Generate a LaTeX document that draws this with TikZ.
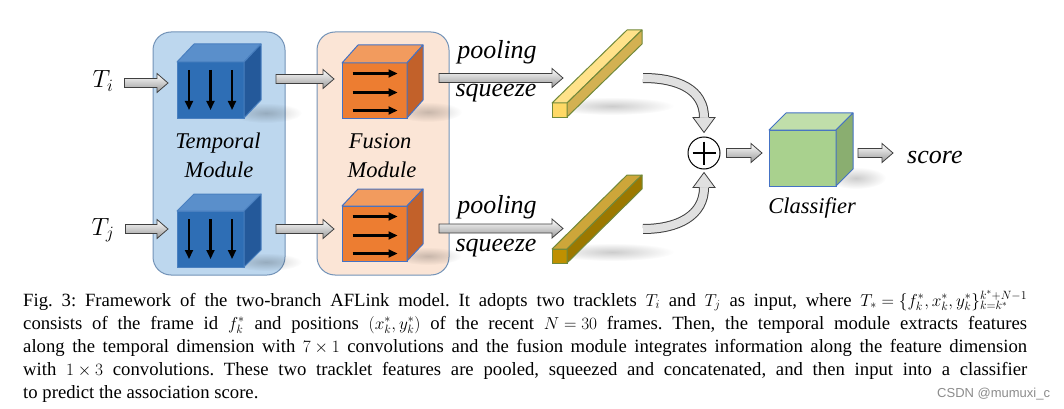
\documentclass[tikz,border=0pt]{standalone}
\usepackage{fontspec}
\setmainfont{Liberation Serif}
\newfontfamily\wmfont{Liberation Sans}
\usetikzlibrary{arrows.meta,calc,fadings}
\definecolor{tempfront}{HTML}{2E6EB5}
\definecolor{temptop}{HTML}{5A8FCB}
\definecolor{tempside}{HTML}{24599A}
\definecolor{tempedge}{HTML}{4A80C0}
\definecolor{fusfront}{HTML}{ED7D31}
\definecolor{fustop}{HTML}{F29B5E}
\definecolor{fusside}{HTML}{C2612A}
\definecolor{cubeedge}{HTML}{4472C4}
\definecolor{clsfront}{HTML}{A9D18E}
\definecolor{clstop}{HTML}{C0DEAA}
\definecolor{clsside}{HTML}{8AAE70}
\definecolor{barafront}{HTML}{FFD966}
\definecolor{baratop}{HTML}{FFE28A}
\definecolor{baraside}{HTML}{D3B152}
\definecolor{barbfront}{HTML}{BF9000}
\definecolor{barbtop}{HTML}{CDA63A}
\definecolor{barbside}{HTML}{9C7800}
\definecolor{baredge}{HTML}{71893A}
\definecolor{modblue}{HTML}{BDD7EE}
\definecolor{modpeach}{HTML}{FBE5D6}
\definecolor{modedge}{HTML}{7393B8}
\tikzfading[name=softshadow, inner color=transparent!0, outer color=transparent!100]
% fixed math spacing for the caption lines
\newcommand{\capmath}{\thickmuskip=5mu\relax\medmuskip=4mu\relax\thinmuskip=3mu\relax}
% top and side faces of a box whose front face is a node
\newcommand{\cubefaces}[6]{%
  \filldraw[fill=#4,draw=#6,line width=1pt,line join=round] (#1.north west) -- ++(#2,-#3) -- ([shift={(#2,-#3)}]#1.north east) -- (#1.north east) -- cycle;
  \filldraw[fill=#5,draw=#6,line width=1pt,line join=round] (#1.north east) -- ++(#2,-#3) -- ([shift={(#2,-#3)}]#1.south east) -- (#1.south east) -- cycle;}
\newcommand{\blockarrow}[2]{%
  \path[blockarrow] let \p1=(#1), \p2=(#2) in
    (\x1,\y1+4.5pt) -- (\x2-11pt,\y1+4.5pt) -- (\x2-11pt,\y1+9.5pt) -- (\x2,\y1)
    -- (\x2-11pt,\y1-9.5pt) -- (\x2-11pt,\y1-4.5pt) -- (\x1,\y1-4.5pt) -- cycle;}
\newcommand{\shadowblob}[3]{%
  \fill[black,opacity=0.2,path fading=softshadow] #1 ellipse [x radius=#2,y radius=#3];}
\begin{document}
\begin{tikzpicture}[x=1pt,y=-1pt,
  modbox/.style={draw=modedge,line width=1pt,rounded corners=18pt,minimum width=132pt,minimum height=243pt},
  cube/.style={draw=#1,line width=1pt,outer sep=0pt,inner sep=0pt},
  modlabel/.style={font=\fontsize{22.5}{27}\selectfont\itshape,inner sep=0pt},
  flowlabel/.style={font=\fontsize{26}{30}\selectfont\itshape,inner sep=0pt},
  blockarrow/.style={draw=black!75,line width=0.8pt,top color=white,bottom color=black!40},
  curvearrow/.style={draw=black!75,line width=1pt,double=black!12,double distance=8pt},
  headfill/.style={draw=black!75,line width=0.8pt,fill=black!12,line join=miter},
  conv/.style={line width=2.2pt,-{Triangle[length=9pt,width=8pt]}},
  capline/.style={font=\fontsize{18.7}{23}\selectfont\frenchspacing,inner sep=0pt,anchor=base west}]
\fill[white] (0,0) rectangle (1064,409);
\useasboundingbox (0,0) rectangle (1064,409);

\node[modbox,fill=modblue] (tmod) at (219,153.5) {};
\node[modbox,fill=modpeach] (fmod) at (383,153.5) {};

\shadowblob{(266,113)}{36}{10}
\shadowblob{(266,262)}{36}{9}
\shadowblob{(428,112)}{34}{10}
\shadowblob{(428,256)}{34}{9}
\shadowblob{(612,106)}{62}{9}
\shadowblob{(612,252)}{62}{9}
\shadowblob{(856,178)}{30}{11}

\node[cube=tempedge,fill=tempfront,minimum width=67pt,minimum height=56pt] (tempi) at (210.5,90) {};
\node[cube=tempedge,fill=tempfront,minimum width=67pt,minimum height=56pt] (tempj) at (210.5,239) {};
\cubefaces{tempi}{17}{18}{temptop}{tempside}{tempedge}
\cubefaces{tempj}{17}{17}{temptop}{tempside}{tempedge}
\node[cube=cubeedge,fill=fusfront,minimum width=65pt,minimum height=55pt] (fusi) at (374.5,90.5) {};
\node[cube=cubeedge,fill=fusfront,minimum width=65pt,minimum height=55pt] (fusj) at (374.5,233.5) {};
\cubefaces{fusi}{16}{18}{fustop}{fusside}{cubeedge}
\cubefaces{fusj}{16}{17}{fustop}{fusside}{cubeedge}
\foreach \c in {tempi,tempj}
  \foreach \dx in {-21.5,0,21.5}
    \draw[conv] ([xshift=\dx pt,yshift=20pt]\c.center) -- ([xshift=\dx pt,yshift=-20pt]\c.center);
\foreach \c in {fusi,fusj}
  \foreach \dy in {17,-2,-20}
    \draw[conv] ([xshift=-22pt,yshift=\dy pt]\c.center) -- ([xshift=23pt,yshift=\dy pt]\c.center);

\node[cube=baredge,fill=barafront,minimum width=15pt,minimum height=14pt] (bari) at (559.5,110) {};
\node[cube=baredge,fill=barbfront,minimum width=15pt,minimum height=14pt] (barj) at (559.5,256) {};
\cubefaces{bari}{75}{73}{baratop}{baraside}{baredge}
\cubefaces{barj}{75}{74}{barbtop}{barbside}{baredge}

\node[circle,draw,line width=1pt,minimum size=32pt,inner sep=0pt] (sum) at (704,153) {};
\draw[line width=2.4pt] ([yshift=-5pt]sum.north) -- ([yshift=5pt]sum.south);
\draw[line width=2.4pt] ([xshift=5pt]sum.west) -- ([xshift=-5pt]sum.east);

\node[cube=cubeedge,fill=clsfront,minimum width=67pt,minimum height=56pt] (cls) at (802.5,158) {};
\cubefaces{cls}{17}{17}{clstop}{clsside}{cubeedge}

\node[inner sep=0pt,anchor=base] (Ti) at (103,88) {\fontsize{27}{32}\selectfont$T_i$};
\node[inner sep=0pt,anchor=base] (Tj) at (103,235) {\fontsize{27}{32}\selectfont$T_j$};
\node[modlabel,anchor=base] (tlabi) at (218,148) {Temporal};
\node[modlabel,anchor=base] (tlabj) at (219,177) {Module};
\node[modlabel,anchor=base] (flabi) at (380,148) {Fusion};
\node[modlabel,anchor=base] (flabj) at (382,177) {Module};
\node[flowlabel,anchor=base] (pooli) at (497,59) {pooling};
\node[flowlabel,anchor=base] (squi) at (496,97) {squeeze};
\node[flowlabel,anchor=base] (poolj) at (497,213) {pooling};
\node[flowlabel,anchor=base] (squj) at (496,251) {squeeze};
\node[modlabel,anchor=base] (clslab) at (812,213) {Classifier};
\node[flowlabel,anchor=base west] (score) at (907,163) {score};

\blockarrow{[xshift=11pt,yshift=5pt]Ti.base east}{[xshift=-9pt]tempi.west}
\blockarrow{[xshift=11pt,yshift=6pt]Tj.base east}{[xshift=-9pt]tempj.west}
\blockarrow{[xshift=32pt,yshift=11pt]tempi.east}{[xshift=-8pt]fusi.west}
\blockarrow{[xshift=32pt,yshift=10pt]tempj.east}{[xshift=-8pt]fusj.west}
\blockarrow{[xshift=32pt,yshift=12.5pt]fusi.east}{[xshift=11pt]bari.west}
\blockarrow{[xshift=32pt,yshift=5pt]fusj.east}{[xshift=11pt]barj.west}
\blockarrow{[xshift=6pt]sum.east}{[xshift=-7pt]cls.west}
\blockarrow{[xshift=22pt,yshift=5pt]cls.east}{[xshift=-14pt]score.base west}

\coordinate (fromi) at (643,78);
\coordinate (fromj) at (643,229);
\coordinate (tiptop) at ([yshift=4pt]sum.north);
\coordinate (tipbot) at ([yshift=-3pt]sum.south);
\draw[curvearrow] (fromi) .. controls +(35,0) and +(0,-28) .. ([yshift=15pt]tiptop);
\draw[curvearrow] (fromj) .. controls +(35,0) and +(0,28) .. ([yshift=-15pt]tipbot);
\filldraw[headfill] ([shift={(-4.5pt,15pt)}]tiptop) -- ([shift={(-11pt,15pt)}]tiptop) -- (tiptop) -- ([shift={(11pt,15pt)}]tiptop) -- ([shift={(4.5pt,15pt)}]tiptop);
\filldraw[headfill] ([shift={(-4.5pt,-15pt)}]tipbot) -- ([shift={(-11pt,-15pt)}]tipbot) -- (tipbot) -- ([shift={(11pt,-15pt)}]tipbot) -- ([shift={(4.5pt,-15pt)}]tipbot);

\node[capline] (capa) at (23,306) {\capmath\makebox[1004pt][s]{Fig. 3: Framework of the two-branch AFLink model. It adopts two tracklets $T_i$ and $T_j$ as input, where $T_* = \{f_k^*, x_k^*, y_k^*\}_{k=k^*}^{k^*+N-1}$}};
\node[capline] (capb) at (23,329) {\capmath\makebox[1004pt][s]{consists of the frame id $f_k^*$ and positions $(x_k^*, y_k^*)$ of the recent $N = 30$ frames. Then, the temporal module extracts features}};
\node[capline] (capc) at (23,352) {\capmath\makebox[1004pt][s]{along the temporal dimension with $7 \times 1$ convolutions and the fusion module integrates information along the feature dimension}};
\node[capline] (capd) at (23,375) {\capmath\makebox[1004pt][s]{with $1 \times 3$ convolutions. These two tracklet features are pooled, squeezed and concatenated, and then input into a classifier}};
\node[capline] (cape) at (23,398) {to predict the association score.};
\node[font=\wmfont\fontsize{13}{15}\selectfont,text=black!45,anchor=base west,inner sep=0pt] (wm) at (937,397) {CSDN @mumuxi\_c};
\end{tikzpicture}
\end{document}
